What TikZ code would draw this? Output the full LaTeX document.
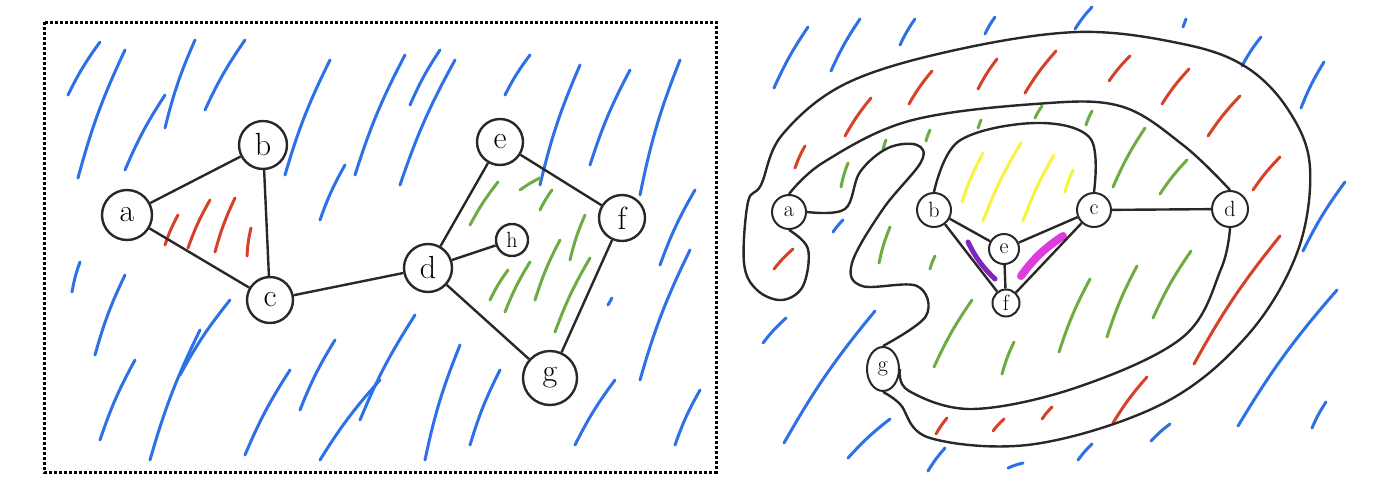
\documentclass[tikz,border=0pt]{standalone}
\usetikzlibrary{shapes.geometric}
\definecolor{hb}{RGB}{46,112,230}
\definecolor{hr}{RGB}{214,66,40}
\definecolor{hg}{RGB}{108,172,64}
\definecolor{hy}{RGB}{246,244,60}
\definecolor{hp}{RGB}{130,36,190}
\definecolor{hm}{RGB}{222,60,220}
\definecolor{ink}{RGB}{40,40,40}
\tikzset{
 vtx/.style={draw=ink,fill=white,circle,line width=2.4pt,inner sep=0pt,font=\fontsize{32}{32}\selectfont},
 svtx/.style={draw=ink,fill=white,circle,line width=2pt,inner sep=0pt,font=\fontsize{22}{22}\selectfont},
 edge/.style={line width=2.4pt,draw=ink},
 stroke/.style={line width=3pt,line cap=round},
}
\begin{document}
\begin{tikzpicture}[x=1pt,y=-1pt]
\useasboundingbox (0,0) rectangle (1394,482);
% left hatching
\foreach \a/\b/\c/\d in {68/95/100/42, 78/178/125/50, 125/170/165/95, 165/128/195/40, 205/110/245/40, 285/175/330/60, 320/220/345/165, 355/175/405/55, 410/105/440/50, 400/185/455/60, 505/95/530/55, 540/185/580/65, 590/165/630/70, 640/195/680/60, 660/265/695/190, 640/380/690/250, 675/445/700/390, 95/355/125/275, 72/292/80/262, 100/440/135/360, 150/460/200/330, 180/375/230/300, 245/455/290/370, 300/410/335/340, 320/460/380/380, 360/420/415/315, 425/460/460/345, 470/445/500/370, 575/445/615/380, 608/305/612/298}
  \draw[stroke,hb] (\a,\b) to[bend left=5] (\c,\d);
\foreach \a/\b/\c/\d in {165/245/178/215, 188/248/210/200, 215/252/235/198, 247/256/251/228}
  \draw[stroke,hr] (\a,\b) to[bend left=5] (\c,\d);
\foreach \a/\b/\c/\d in {470/225/498/182, 490/300/508/270, 505/312/530/262, 535/300/560/240, 555/332/590/258, 540/210/552/190, 570/260/585/215, 520/190/540/178}
  \draw[stroke,hg] (\a,\b) to[bend left=5] (\c,\d);
\draw[line width=3pt,dotted] (44,22) rectangle (716,472);
% left graph
\node[vtx,minimum size=50pt] (a) at (127,215) {a};
\node[vtx,minimum size=48pt] (b) at (263,145) {b};
\node[vtx,minimum size=46pt] (c) at (270,300) {c};
\node[vtx,minimum size=48pt] (d) at (428,268) {d};
\node[vtx,minimum size=32pt,font=\fontsize{22}{22}\selectfont] (h) at (512,240) {h};
\node[vtx,minimum size=46pt] (e) at (500,142) {e};
\node[vtx,minimum size=46pt] (f) at (622,218) {f};
\node[vtx,minimum size=54pt] (g) at (550,378) {g};
\draw[edge] (a)--(b) (a)--(c) (b)--(c) (c)--(d) (d)--(e) (d)--(h) (d)--(g) (e)--(f) (f)--(g);
% right hatching
\foreach \a/\b/\c/\d in {774/88/808/27, 831/71/860/19, 900/45/915/19, 985/34/995/17, 1075/29/1092/7, 1183/27/1186/19, 1242/66/1261/37, 1301/108/1324/62, 1303/251/1345/182, 1238/426/1337/290, 1312/428/1326/402, 833/232/843/220, 763/343/786/318, 784/443/875/311, 848/458/890/419, 928/471/945/448, 1008/468/1023/463, 1078/460/1092/444, 1151/441/1170/424}
  \draw[stroke,hb] (\a,\b) to[bend left=5] (\c,\d);
\foreach \a/\b/\c/\d in {795/168/805/146, 845/136/871/98, 909/104/932/71, 978/89/997/59, 1025/93/1056/51, 1109/81/1130/56, 1162/104/1189/69, 1208/136/1240/96, 1253/190/1280/157, 1194/364/1280/236, 1113/423/1147/377, 774/269/793/249, 936/434/947/418, 993/431/1004/419, 1042/419/1052/407}
  \draw[stroke,hr] (\a,\b) to[bend left=5] (\c,\d);
\foreach \a/\b/\c/\d in {841/187/848/163, 883/150/886/140, 926/141/930/130, 978/128/981/120, 1035/118/1042/106, 1086/125/1092/111, 1113/187/1145/128, 1160/194/1187/160, 879/263/890/227, 930/269/935/256, 934/367/972/300, 1002/374/1014/342, 1059/352/1090/279, 1107/337/1137/266, 1153/318/1191/251}
  \draw[stroke,hg] (\a,\b) to[bend left=5] (\c,\d);
\foreach \a/\b/\c/\d in {962/202/983/153, 983/221/1021/143, 1023/221/1054/155, 1065/192/1073/170}
  \draw[stroke,hy] (\a,\b) to[bend left=5] (\c,\d);
\draw[line width=5pt,line cap=round,hp] (968,242) to[bend right=10] (995,279);
\draw[line width=8pt,line cap=round,hm] (1021,276) to[bend left=10] (1063,236);
% right graph
\node[svtx,minimum size=34pt] (ra) at (789,212) {a};
\node[svtx,minimum size=34pt] (rb) at (934,210) {b};
\node[svtx,minimum size=30pt] (re) at (1004,249) {e};
\node[svtx,minimum size=34pt] (rc) at (1094,210) {c};
\node[svtx,minimum size=36pt] (rd) at (1230,209) {d};
\node[svtx,minimum size=27pt] (rf) at (1006,303) {f};
\node[svtx,ellipse,minimum width=32pt,minimum height=44pt] (rg) at (883,369) {g};
\draw[edge] (rb)--(re) (rb)--(rf) (rc)--(re) (rc)--(rf) (re)--(rf) (rc)--(rd);
\draw[edge] plot[smooth,tension=0.6] coordinates {(ra.south) (808,249) (803,286) (782,300) (757,290) (744,263) (748,202) (761,185) (782,135) (845,84) (951,51) (1078,32) (1183,44) (1246,67) (1289,111) (1310,168) (1297,253) (1246,337) (1162,404) (1035,444) (930,438) (900,404) (rg.south)};
\draw[edge] plot[smooth,tension=0.6] coordinates {(ra.north) (824,162) (909,121) (1035,104) (1120,106) (1183,145) (rd.north)};
\draw[edge] plot[smooth,tension=0.6] coordinates {(ra.east) (845,209) (860,172) (888,148) (917,145) (921,162) (883,209) (852,263) (862,286) (917,286) (926,316) (rg.north)};
\draw[edge] plot[smooth,tension=0.6] coordinates {(rb.north) (959,141) (1035,123) (1090,138) (rc.north)};
\draw[edge] plot[smooth,tension=0.6] coordinates {(rd.south) (1221,269) (1183,337) (1078,387) (973,409) (909,391) (rg.east)};
\end{tikzpicture}
\end{document}
